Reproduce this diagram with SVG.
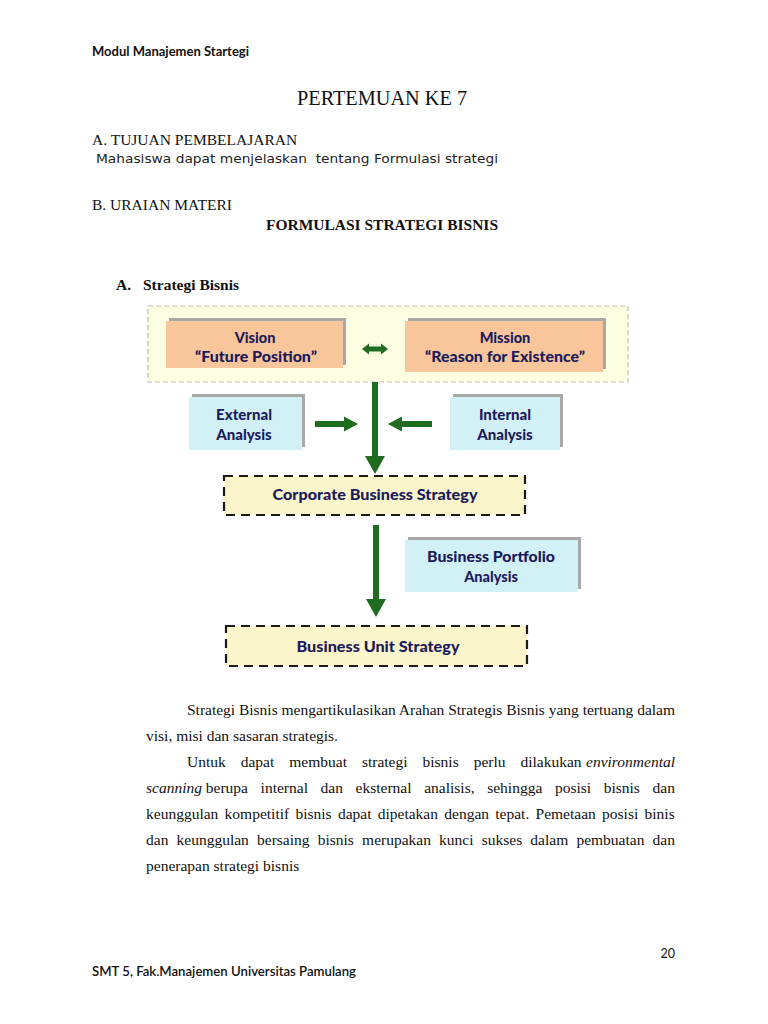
<svg xmlns="http://www.w3.org/2000/svg" width="768" height="1024" viewBox="0 0 768 1024">
<style>
.serif{font-family:"Liberation Serif","Times New Roman",serif;fill:#111;font-size:15.5px}
.b{font-weight:bold}
.it{font-style:italic}
.hdr{font-family:Lato,"Liberation Sans",sans-serif;font-weight:bold;fill:#111}
.lbl{font-family:Lato,"Open Sans",sans-serif;font-weight:900;fill:#1b1b5c;font-size:14.5px;text-anchor:middle}
.shadow{fill:#a8a8a8}
.peach{fill:#f9c59b}
.cyan{fill:#d2f1f7}
.dash{fill:#fbf5cc;stroke:#1a1a1a;stroke-width:2.2;stroke-dasharray:9 6}
.arrow{fill:#1f6b1f}
</style>
<rect width="768" height="1024" fill="#ffffff"/>

<text class="hdr" x="92" y="56" font-size="12.5" textLength="157" lengthAdjust="spacingAndGlyphs">Modul Manajemen Startegi</text>
<text class="serif" x="297" y="105" style="font-size:20.3px">PERTEMUAN KE 7</text>
<text class="serif" x="92" y="145">A. TUJUAN PEMBELAJARAN</text>
<text x="96" y="163" font-family="'DejaVu Sans','Liberation Sans',sans-serif" font-size="12.8" fill="#222" textLength="402" lengthAdjust="spacingAndGlyphs" xml:space="preserve">Mahasiswa dapat menjelaskan  tentang Formulasi strategi</text>
<text class="serif" x="92" y="210">B. URAIAN MATERI</text>
<text class="serif b" x="266" y="230" textLength="232" lengthAdjust="spacingAndGlyphs">FORMULASI STRATEGI BISNIS</text>
<text class="serif b" x="116" y="290">A.</text>
<text class="serif b" x="143" y="290">Strategi Bisnis</text>

<g id="top-frame">
<rect x="148" y="306" width="480" height="76" fill="#fdfde2" stroke="#c4c4b0" stroke-width="1.2" stroke-dasharray="5 3"/>
</g>
<g id="vision">
<rect class="shadow" x="169" y="318" width="177" height="47"/>
<rect class="peach" x="166" y="321" width="177" height="47"/>
<text class="lbl" x="255" y="343">Vision</text>
<text class="lbl" x="256" y="362" textLength="122" lengthAdjust="spacingAndGlyphs">“Future Position”</text>
</g>
<g id="mission">
<rect class="shadow" x="408" y="318" width="198" height="51"/>
<rect class="peach" x="405" y="321" width="198" height="51"/>
<text class="lbl" x="505" y="343">Mission</text>
<text class="lbl" x="505" y="362" textLength="160" lengthAdjust="spacingAndGlyphs">“Reason for Existence”</text>
</g>
<g id="external">
<rect class="shadow" x="192" y="394" width="113" height="53"/>
<rect class="cyan" x="189" y="397" width="113" height="53"/>
<text class="lbl" x="244" y="420" style="font-size:15px">External</text>
<text class="lbl" x="244" y="440" style="font-size:15px">Analysis</text>
</g>
<g id="internal">
<rect class="shadow" x="453" y="394" width="110" height="53"/>
<rect class="cyan" x="450" y="397" width="110" height="53"/>
<text class="lbl" x="505" y="420" style="font-size:15px">Internal</text>
<text class="lbl" x="505" y="440" style="font-size:15px">Analysis</text>
</g>
<g id="corporate">
<rect class="dash" x="224" y="476" width="301" height="39"/>
<text class="lbl" x="375" y="500" textLength="205" lengthAdjust="spacingAndGlyphs">Corporate Business Strategy</text>
</g>
<g id="portfolio">
<rect class="shadow" x="408" y="537" width="173" height="52"/>
<rect class="cyan" x="405" y="540" width="173" height="52"/>
<text class="lbl" x="491" y="562" textLength="128" lengthAdjust="spacingAndGlyphs">Business Portfolio</text>
<text class="lbl" x="491" y="582">Analysis</text>
</g>
<g id="business-unit">
<rect class="dash" x="226" y="626" width="301" height="40"/>
<text class="lbl" x="378" y="652" textLength="163" lengthAdjust="spacingAndGlyphs">Business Unit Strategy</text>
</g>

<g id="connectors">
<polygon class="arrow" points="362,349 369,343.5 369,346.5 381,346.5 381,343.5 388,349 381,354.5 381,351.5 369,351.5 369,354.5"/>
<polygon class="arrow" points="372,382 378,382 378,456 385,456 375,474 365,456 372,456"/>
<polygon class="arrow" points="315,421 344,421 344,416.5 358,424 344,431.5 344,427 315,427"/>
<polygon class="arrow" points="432,421 402,421 402,416.5 388,424 402,431.5 402,427 432,427"/>
<polygon class="arrow" points="373,525 379,525 379,599 386,599 376,617 366,599 373,599"/>
</g>

<g id="body">
<text class="serif" x="187" y="715" textLength="488" lengthAdjust="spacing">Strategi Bisnis mengartikulasikan Arahan Strategis Bisnis yang tertuang dalam</text>
<text class="serif" x="146" y="741">visi, misi dan sasaran strategis.</text>
<text class="serif" x="187" y="767" word-spacing="11.1">Untuk dapat membuat strategi bisnis perlu dilakukan</text>
<text class="serif it" x="675" y="767" text-anchor="end">environmental</text>
<text class="serif it" x="146" y="793">scanning</text>
<text class="serif" x="205.8" y="793" word-spacing="8.76">berupa internal dan eksternal analisis, sehingga posisi bisnis dan</text>
<text class="serif" x="146" y="819" word-spacing="2.4">keunggulan kompetitif bisnis dapat dipetakan dengan tepat. Pemetaan posisi binis</text>
<text class="serif" x="146" y="845" word-spacing="4.3">dan keunggulan bersaing bisnis merupakan kunci sukses dalam pembuatan dan</text>
<text class="serif" x="146" y="871">penerapan strategi bisnis</text>
</g>

<text x="675" y="958" font-family="Lato,'Liberation Sans',sans-serif" font-size="12.5" fill="#111" text-anchor="end">20</text>
<text class="hdr" x="92" y="976" font-size="12.5" style="font-weight:600" textLength="264" lengthAdjust="spacingAndGlyphs">SMT 5, Fak.Manajemen Universitas Pamulang</text>
</svg>
